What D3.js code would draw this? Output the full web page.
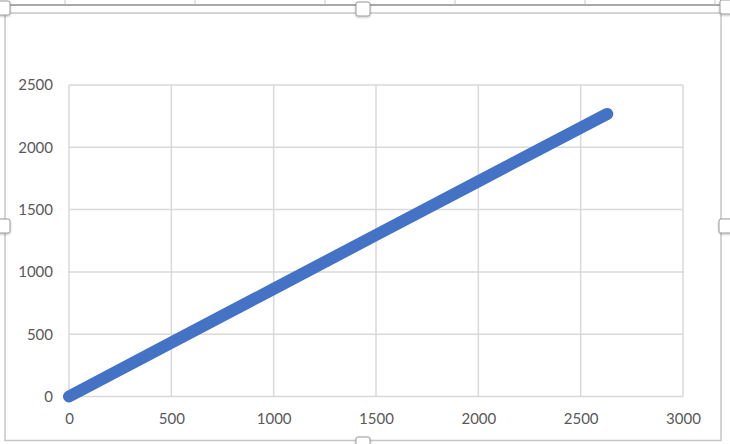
<!DOCTYPE html>
<html><head><meta charset="utf-8">
<script src="https://cdn.jsdelivr.net/npm/d3@7"></script>
<style>html,body{margin:0;padding:0;background:#fff;}svg{display:block;}</style>
</head><body>
<svg id="c" width="730" height="444"></svg>
<script>
// Data
const xValues = [0, 500, 1000, 1500, 2000, 2630];
const yValues = [0, 432, 864, 1296, 1727, 2268];
const xTicks = [0, 500, 1000, 1500, 2000, 2500, 3000];
const yTicks = [0, 500, 1000, 1500, 2000, 2500];

const svg = d3.select("#c");
const W = 730, H = 444;
const plot = {left: 69, right: 683, top: 85, bottom: 396.5};

// spreadsheet cells visible above chart
const cellX = [65, 195, 325, 455, 585, 715];
svg.selectAll("line.cell").data(cellX).join("line")
  .attr("x1", d => d).attr("x2", d => d).attr("y1", 0).attr("y2", 5)
  .attr("stroke", "#c8c8c8").attr("stroke-width", 1);
svg.append("line").attr("x1", 0).attr("x2", W).attr("y1", 5).attr("y2", 5)
  .attr("stroke", "#a9a9a9").attr("stroke-width", 2);

// chart border
svg.append("rect").attr("x", 5).attr("y", 13).attr("width", 716).attr("height", 427.5)
  .attr("fill", "#fff").attr("stroke", "#c6c6c6").attr("stroke-width", 1.5);

const x = d3.scaleLinear().domain([0, 3000]).range([plot.left, plot.right]);
const y = d3.scaleLinear().domain([0, 2500]).range([plot.bottom, plot.top]);

// gridlines
const g = svg.append("g");
g.selectAll("line.vg").data(xTicks).join("line")
  .attr("x1", d => x(d)).attr("x2", d => x(d)).attr("y1", plot.top).attr("y2", plot.bottom)
  .attr("stroke", "#d9d9d9").attr("stroke-width", 1.5);
g.selectAll("line.hg").data(yTicks).join("line")
  .attr("x1", plot.left).attr("x2", plot.right).attr("y1", d => y(d)).attr("y2", d => y(d))
  .attr("stroke", "#d9d9d9").attr("stroke-width", 1.5);

// axes labels via d3 axes
const font = "Lato, 'Open Sans', sans-serif";
const xAxis = svg.append("g").attr("transform", `translate(0,${plot.bottom})`)
  .call(d3.axisBottom(x).tickValues(xTicks).tickSize(0).tickPadding(17).tickFormat(d3.format("d")));
const yAxis = svg.append("g").attr("transform", `translate(${plot.left},0)`)
  .call(d3.axisLeft(y).tickValues(yTicks).tickSize(0).tickPadding(16).tickFormat(d3.format("d")));
[xAxis, yAxis].forEach(a => {
  a.select(".domain").remove();
  a.selectAll("text").attr("fill", "#595959").style("font-family", font).style("font-size", "15px");
});

// series line
const pts = xValues.map((v, i) => [v, yValues[i]]);
svg.append("path").datum(pts)
  .attr("d", d3.line().x(d => x(d[0])).y(d => y(d[1])))
  .attr("fill", "none").attr("stroke", "#4472c4").attr("stroke-width", 12)
  .attr("stroke-linecap", "round").attr("stroke-linejoin", "round");

// selection handles
const defs = svg.append("defs");
const f = defs.append("filter").attr("id", "sh").attr("x", "-50%").attr("y", "-50%").attr("width", "200%").attr("height", "200%");
f.append("feDropShadow").attr("dx", 0).attr("dy", 1).attr("stdDeviation", 1).attr("flood-color", "#000").attr("flood-opacity", 0.25);
const handles = [[-4, 1], [356, 2], [720, 0], [719, 219], [-4, 219], [356, 437]];
svg.selectAll("rect.h").data(handles).join("rect")
  .attr("x", d => d[0]).attr("y", d => d[1]).attr("width", 14).attr("height", 14).attr("rx", 2)
  .attr("fill", "#fff").attr("stroke", "#9a9a9a").attr("stroke-width", 1).attr("filter", "url(#sh)");
</script>
</body></html>
